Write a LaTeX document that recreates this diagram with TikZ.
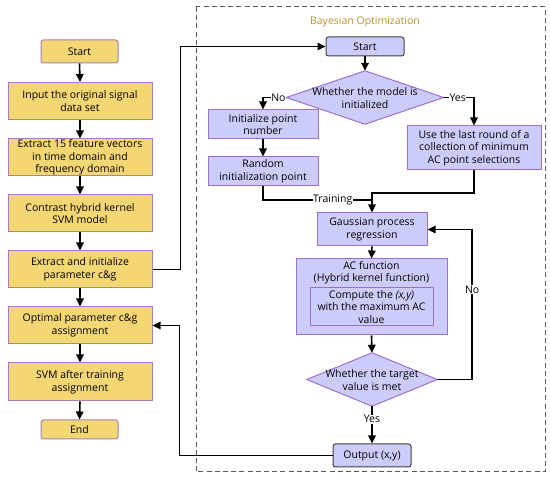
\documentclass[tikz,border=0pt]{standalone}
\usepackage{fontspec}
\setmainfont{Open Sans}
\usetikzlibrary{arrows.meta}
\definecolor{yel}{HTML}{F4D673}
\definecolor{yedge}{HTML}{A77FB8}
\definecolor{lav}{HTML}{CCCCFB}
\definecolor{ledge}{HTML}{9D6FD0}
\definecolor{gold}{HTML}{B8952F}
\begin{document}
\begin{tikzpicture}[x=1pt,y=-1pt,
  font=\fontsize{10.5}{12.5}\selectfont,
  base/.style={align=center,inner sep=0pt,line width=1pt},
  ybox/.style={base,draw=yedge,fill=yel,minimum width=144pt,minimum height=37pt},
  yround/.style={base,draw=yedge,fill=yel,rounded corners=2.5pt,minimum width=77pt},
  lbox/.style={base,draw=ledge,fill=lav},
  lround/.style={base,draw=black!75,fill=lav,rounded corners=2.5pt,minimum width=78pt},
  ghost/.style={inner sep=0pt,align=center},
  lab/.style={fill=white,inner sep=0.6pt},
  arr/.style={-{Triangle[length=8pt,width=7.5pt]},line width=1.6pt},
  ln/.style={line width=1.6pt}]
\useasboundingbox (0,0) rectangle (550,478);
% dashed panel
\draw[dashed,dash pattern=on 5pt off 3.2pt,black!65,line width=1pt] (196,7) rectangle (545,472);
\node[ghost,text=gold] (title) at (365,22) {Bayesian Optimization};
% left column
\node[yround,minimum height=23pt] (s) at (79.5,51.5) {Start};
\node[ybox] (n1) at (80,101) {Input the original signal\\data set};
\node[ybox] (n2) at (80,157.5) {Extract 15 feature vectors\\in time domain and\\frequency domain};
\node[ybox] (n3) at (80,213.5) {Contrast hybrid kernel\\SVM model};
\node[ybox] (n4) at (80,269.5) {Extract and initialize\\parameter c\&g};
\node[ybox] (n5) at (80,325.5) {Optimal parameter c\&g\\assignment};
\node[ybox,minimum height=38pt] (n6) at (80,382) {SVM after training\\assignment};
\node[yround,minimum height=19pt] (e) at (79.5,429.5) {End};
\foreach \a/\b in {s/n1,n1/n2,n2/n3,n3/n4,n4/n5,n5/n6,n6/e}
  \draw[arr] (\a.south) -- (\b.north);
% right panel
\node[lround,minimum height=19pt] (rs) at (365,46.5) {Start};
\node[ghost,minimum width=157pt,minimum height=53pt] (d1) at (365,97.5) {};
\draw[base,draw=ledge,fill=lav] (d1.north) -- (d1.east) -- (d1.south) -- (d1.west) -- cycle;
\node[ghost] (d1t) at (365,98) {Whether the model is\\initialized};
\node[lbox,minimum width=110pt,minimum height=29pt] (ip) at (263,124.5) {Initialize point\\number};
\node[lbox,minimum width=110pt,minimum height=29pt] (rnd) at (263,171.5) {Random\\initialization point};
\node[lbox,minimum width=134pt,minimum height=44pt] (ul) at (474,148) {Use the last round of a\\collection of minimum\\AC point selections};
\node[lbox,minimum width=110pt,minimum height=33pt] (gp) at (372,229.5) {Gaussian process\\regression};
\node[lbox,minimum width=151pt,minimum height=76pt] (ac) at (371.5,297) {};
\node[ghost] (act) at (371.5,272.5) {AC function\\(Hybrid kernel function)};
\node[lbox,minimum width=123pt,minimum height=38pt] (cx) at (371.5,307) {Compute the \textit{(x,y)}\\with the maximum AC\\value};
\node[ghost,minimum width=130pt,minimum height=53pt] (d2) at (372,379.5) {};
\draw[base,draw=ledge,fill=lav] (d2.north) -- (d2.east) -- (d2.south) -- (d2.west) -- cycle;
\node[ghost] (d2t) at (372,380) {Whether the target\\value is met};
\node[lround,minimum height=23pt] (out) at (372,455.5) {Output (x,y)};
\coordinate (m1) at (372,193);
\coordinate (m2) at (372,200);
% connectors
\draw[arr] (n4.east) -- ++(28,0) |- (rs.west);
\draw[arr] (out.west) -| ([xshift=27pt]n5.east) -- (n5.east);
\draw[arr] (rs.south) -- (d1.north);
\draw[arr] (d1.west) -| node[lab,pos=0.17]{No} (ip.north);
\draw[arr] (d1.east) -| node[lab,pos=0.23]{Yes} (ul.north);
\draw[arr] (ip.south) -- (rnd.south |- rnd.north);
\draw[ln] (rnd.south) |- node[lab,pos=0.82]{Training} (m2);
\draw[arr] (ul.south) |- (m1) -- (gp.north);
\draw[arr] (gp.south) -- (ac.north);
\draw[arr] (ac.south) -- (d2.north);
\draw[arr] (d2.east) -- ++(35,0) |- node[lab,pos=0.30]{No} (gp.east);
\draw[arr] (d2.south) -- node[lab,pos=0.35]{Yes} (out.north);
\end{tikzpicture}
\end{document}
